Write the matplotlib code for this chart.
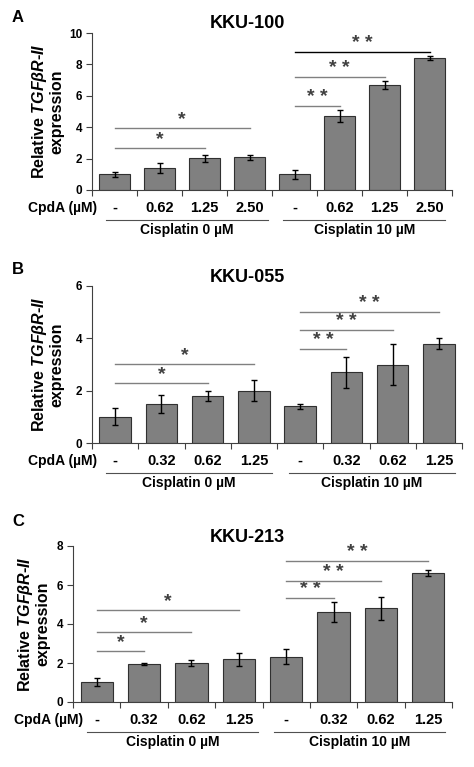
import numpy as np
import matplotlib
matplotlib.use('Agg')
import matplotlib.pyplot as plt
from matplotlib import transforms

plt.rcParams['font.family'] = 'Liberation Sans'
plt.rcParams['font.weight'] = 'bold'
plt.rcParams['axes.labelweight'] = 'bold'
plt.rcParams['mathtext.fontset'] = 'custom'
plt.rcParams['mathtext.rm'] = 'Liberation Sans:bold'
plt.rcParams['mathtext.bf'] = 'Liberation Sans:bold'
plt.rcParams['mathtext.it'] = 'Liberation Sans:italic:bold'
plt.rcParams['mathtext.bfit'] = 'Liberation Sans:italic:bold'

W, H = 474, 767

# ---- data ----
titles = ['KKU-100', 'KKU-055', 'KKU-213']
letters = ['A', 'B', 'C']
cpda_a = ['-', '0.62', '1.25', '2.50', '-', '0.62', '1.25', '2.50']
cpda_bc = ['-', '0.32', '0.62', '1.25', '-', '0.32', '0.62', '1.25']
groups = ['Cisplatin 0 µM', 'Cisplatin 10 µM']

mean_a = [1.0, 1.4, 2.02, 2.08, 1.0, 4.72, 6.7, 8.4]
err_a = [0.15, 0.3, 0.22, 0.15, 0.27, 0.4, 0.25, 0.15]
mean_b = [1.0, 1.5, 1.8, 2.0, 1.4, 2.7, 3.0, 3.8]
err_b = [0.32, 0.35, 0.2, 0.4, 0.1, 0.6, 0.8, 0.22]
mean_c = [1.02, 1.93, 2.0, 2.2, 2.32, 4.6, 4.8, 6.6]
err_c = [0.2, 0.05, 0.15, 0.33, 0.38, 0.52, 0.6, 0.15]

# significance brackets: (start bar, end bar, height, label)
sig_a = [(0, 2, 2.7, '*'), (0, 3, 3.94, '*'), (4, 5, 5.36, '* *'), (4, 6, 7.19, '* *'), (4, 7, 8.79, '* *')]
sig_b = [(0, 2, 2.29, '*'), (0, 3, 3.02, '*'), (4, 5, 3.58, '* *'), (4, 6, 4.32, '* *'), (4, 7, 4.99, '* *')]
sig_c = [(0, 1, 2.59, '*'), (0, 2, 3.59, '*'), (0, 3, 4.70, '*'), (4, 5, 5.31, '* *'), (4, 6, 6.21, '* *'), (4, 7, 7.22, '* *')]

ymax = [10, 6, 8]

panels = [
    (mean_a, err_a, cpda_a, sig_a),
    (mean_b, err_b, cpda_bc, sig_b),
    (mean_c, err_c, cpda_bc, sig_c),
]

# layout in pixels: left, right, top, bottom
boxes = [(92, 452, 33, 190), (92, 462, 286, 443), (73, 452, 546, 702)]
title_y = [23, 278, 537]
letter_y = [17, 270, 522]
cpda_dx = [5, 5, 10]
group_spans = [(-0.2, 3.4), (3.75, 7.35)]

fig = plt.figure(figsize=(W / 100, H / 100), dpi=100)
ylab = 'Relative $\\mathbfit{TGF\\beta R}$-$\\mathbfit{II}$\nexpression'

for k, (means, errs, labels, sigs) in enumerate(panels):
    l, r, t, b = boxes[k]
    ax = fig.add_axes([l / W, 1 - b / H, (r - l) / W, (b - t) / H])
    x = np.arange(len(means))
    ax.bar(x, means, width=0.68, color='#808080', edgecolor='#303030', linewidth=0.8, zorder=2)
    ax.errorbar(x, means, yerr=errs, fmt='none', ecolor='black', elinewidth=1, capsize=2.5, capthick=1, zorder=3)
    ax.set_xlim(-0.5, len(means) - 0.5)
    ax.set_ylim(0, ymax[k])
    ax.set_yticks(np.arange(0, ymax[k] + 1, 2))
    ax.tick_params(axis='y', labelsize=8.5, length=4, width=0.8, color='#404040', pad=3)
    ax.set_xticks(np.arange(-0.5, len(means), 1))
    ax.set_xticklabels([])
    ax.tick_params(axis='x', which='major', length=4, width=0.8, color='#404040')
    ax.set_xticks(x, minor=True)
    ax.set_xticklabels(labels, minor=True)
    ax.tick_params(axis='x', which='minor', length=0, labelsize=10.5, pad=8)
    for s in ['top', 'right']:
        ax.spines[s].set_visible(False)
    for s in ['left', 'bottom']:
        ax.spines[s].set_color('#404040')
        ax.spines[s].set_linewidth(0.8)

    ax.set_ylabel(ylab, fontsize=11.5, linespacing=1.0, fontweight='bold')
    ax.yaxis.set_label_coords(-(l - (64 if k < 2 else 50)) / (r - l), 0.5)

    trans = transforms.blended_transform_factory(ax.transData, ax.transAxes)
    ph = b - t
    for g, (x0, x1) in enumerate(group_spans):
        ax.plot([x0, x1], [-30 / ph, -30 / ph], color='#505050', lw=0.8, transform=trans, clip_on=False)
        ax.text((x0 + x1) / 2, -40 / ph, groups[g], transform=trans, ha='center', va='center', fontsize=10)
    ax.text(-0.5 + cpda_dx[k] / ((r - l) / 8), -18 / ph, 'CpdA (µM)', transform=trans, ha='right', va='center', fontsize=10)

    for (i, j, h, lab) in sigs:
        col = 'black' if (k == 0 and j == 7) else '#808080'
        ax.plot([i, j], [h, h], color=col, lw=1, zorder=4)
        ax.annotate(lab, xy=((i + j) / 2, h), xytext=(0, 0), textcoords='offset points',
                    ha='center', va='bottom', fontsize=14, color='#404040')

    fig.text(247 / W, 1 - title_y[k] / H, titles[k], ha='center', va='center', fontsize=13)
    fig.text(12 / W, 1 - letter_y[k] / H, letters[k], ha='left', va='center', fontsize=12)

fig.savefig('out.png', dpi=100)
